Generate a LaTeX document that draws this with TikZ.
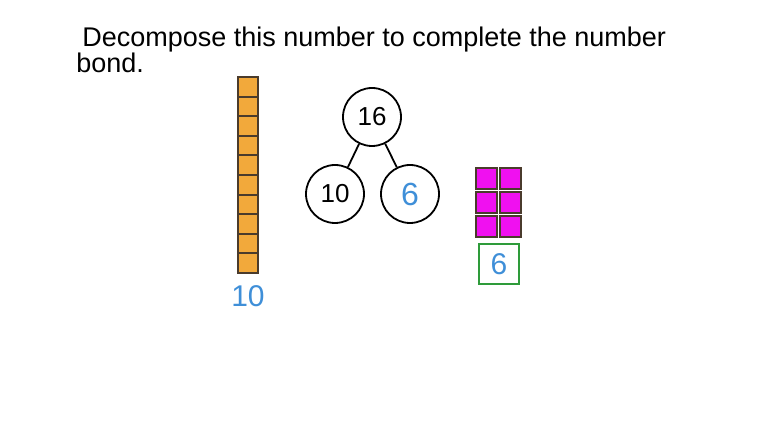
\documentclass[tikz,border=0pt]{standalone}
\usepackage{fontspec}
\setmainfont{Liberation Sans}
\usetikzlibrary{positioning}
\definecolor{rodorange}{HTML}{F2A93B}
\definecolor{rodbrown}{HTML}{4A3B2C}
\definecolor{penblue}{HTML}{3F8FD8}
\definecolor{cubepink}{HTML}{F010F0}
\definecolor{boxgreen}{HTML}{2E9B3A}
\begin{document}
\begin{tikzpicture}[x=1pt,y=-1pt,
		semithick]
		\tikzstyle{bond}=[draw,circle,line width=1.8pt,minimum size=58pt,inner sep=0pt,font=\fontsize{26}{26}\selectfont]
		\tikzstyle{rodcell}=[draw=rodbrown,fill=rodorange,line width=2pt,minimum width=20pt,minimum height=19.6pt,inner sep=0pt]
		\tikzstyle{cube}=[draw=rodbrown,fill=cubepink,line width=2pt,minimum size=21pt,inner sep=0pt]
		
		\useasboundingbox (0,0) rectangle (760,427);
		
		% question text
		\node[anchor=base west,inner sep=0pt,font=\fontsize{27}{27}\selectfont] (q1) at (82,47) {Decompose this number to complete the number};
		\node[anchor=base west,inner sep=0pt,font=\fontsize{27}{27}\selectfont] (q2) at (76,73) {bond.};
		
		% ten rod
		\foreach \i in {0,...,9}
		\node[rodcell] (rod\i) at (248,{86.8+19.6*\i}) {};
		\node[below=8pt of rod9,text=penblue,font=\fontsize{30}{30}\selectfont] (ten) {10};
		
		% number bond
		\node[bond] (Whole) at (372,117) {16};
		\node[bond] (PartA) at (335,194) {10};
		\node[bond,text=penblue,font=\fontsize{32}{32}\selectfont] (PartB) at (410,194) {6};
		\draw[line width=1.8pt] (Whole) -- (PartA);
		\draw[line width=1.8pt] (Whole) -- (PartB);
		
		% six cubes
		\foreach \r in {0,1,2}
		\foreach \c in {0,1}
		\node[cube] (cube\r\c) at ({486+24*\c},{179+24*\r}) {};
		\node[draw=boxgreen,line width=1.8pt,minimum size=40pt,inner sep=0pt,text=penblue,font=\fontsize{30}{30}\selectfont] (six) at (499,264) {6};
\end{tikzpicture}
\end{document}
